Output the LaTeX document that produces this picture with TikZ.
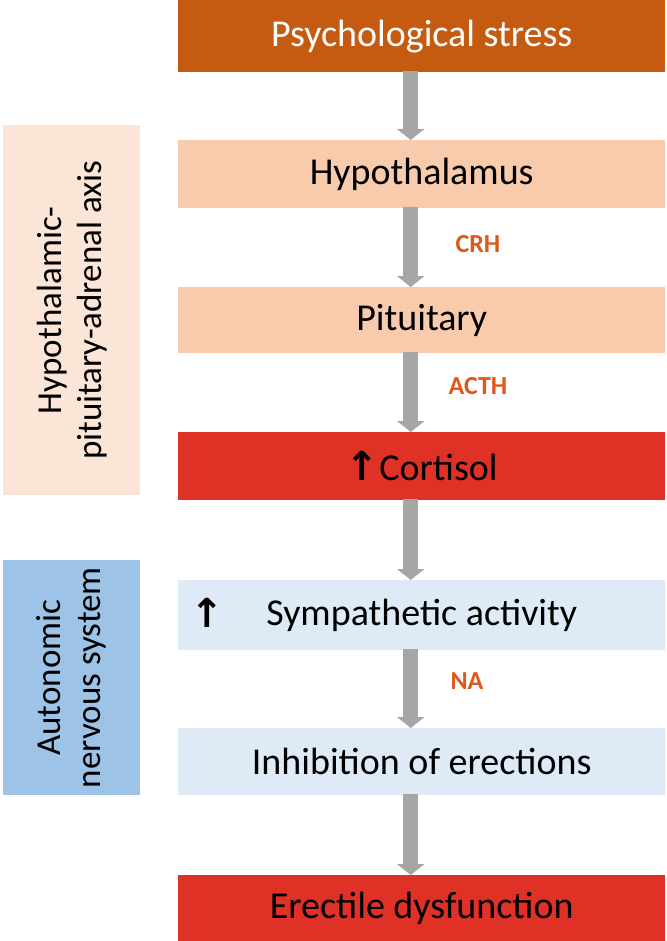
\documentclass[tikz,border=0pt]{standalone}
\usepackage{fontspec}
\setmainfont{Carlito}
\newfontfamily\symf{DejaVu Sans}
\usetikzlibrary{arrows.meta}
\definecolor{dorange}{HTML}{C55A11}
\definecolor{peach}{HTML}{F8CBAD}
\definecolor{lpeach}{HTML}{FBE5D6}
\definecolor{cred}{HTML}{E03127}
\definecolor{lblue}{HTML}{DEEBF7}
\definecolor{mblue}{HTML}{9DC3E6}
\definecolor{lab}{HTML}{E0571B}
\definecolor{agray}{HTML}{A6A6A6}
\begin{document}
\begin{tikzpicture}[x=1pt,y=-1pt,
 box/.style={minimum width=487pt,anchor=north west,inner sep=0pt,font=\fontsize{38}{42}\selectfont},
 side/.style={anchor=north west,inner sep=0pt},
 stext/.style={rotate=90,font=\fontsize{35}{40}\selectfont,align=center},
 lbl/.style={text=lab,font=\bfseries\fontsize{26}{30}\selectfont},
 conn/.style={draw=agray,line width=15pt,-{Triangle[width=27pt,length=11pt]},shorten <=-1pt}]
\useasboundingbox (0,0) rectangle (666,941);
\node[box,fill=dorange,text=white,minimum height=72pt] (ps) at (178,0) {Psychological stress};
\node[box,fill=peach,minimum height=68pt] (hy) at (178,140) {Hypothalamus};
\node[box,fill=peach,minimum height=66pt] (pi) at (178,287) {Pituitary};
\node[box,fill=cred,minimum height=68pt] (co) at (178,432) {{\symf\bfseries\fontsize{40}{42}\selectfont ↑}Cortisol};
\node[box,fill=lblue,minimum height=70pt] (sy) at (178,580) {Sympathetic activity};
\node[font=\symf\bfseries\fontsize{40}{42}\selectfont] (up) at (207,613) {↑};
\node[box,fill=lblue,minimum height=67pt] (in) at (178,728) {Inhibition of erections};
\node[box,fill=cred,minimum height=66pt] (ed) at (178,875) {Erectile dysfunction};
\node[side,fill=lpeach,minimum width=137pt,minimum height=370pt] (hpa) at (3,125) {};
\node[stext] at (hpa.center) {Hypothalamic-\\pituitary-adrenal axis};
\node[side,fill=mblue,minimum width=137pt,minimum height=235pt] (ans) at (3,560) {};
\node[stext] at (ans.center) {Autonomic\\nervous system};
\foreach \a/\b in {ps/hy,hy/pi,pi/co,co/sy,sy/in,in/ed}
  \draw[conn] ([xshift=-11pt]\a.south) -- ([xshift=-11pt]\b.north);
\node[lbl] (crh) at (478,244) {CRH};
\node[lbl] (acth) at (478,386) {ACTH};
\node[lbl] (na) at (467,681) {NA};
\end{tikzpicture}
\end{document}
